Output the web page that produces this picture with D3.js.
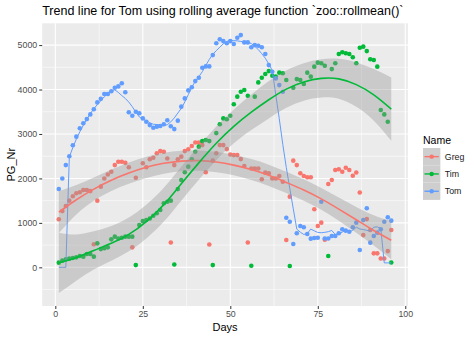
<!DOCTYPE html>
<html>
<head>
<meta charset="utf-8">
<script src="https://cdn.jsdelivr.net/npm/d3@7"></script>
<style>
  html, body { margin: 0; padding: 0; background: #ffffff; }
  svg { display: block; font-family: "Liberation Sans", Arial, sans-serif; }
</style>
</head>
<body>
<svg id="chart" width="474" height="338"></svg>
<script>
// ---------------- data ----------------
const days = d3.range(1, 97);
const seriesNames = ["Greg", "Tim", "Tom"];
const seriesColors = ["#F8766D", "#00BA38", "#619CFF"];

const gregValues = [1080,1265,1380,1500,1600,1665,1690,1740,1740,1715,
  520,1500,1815,2000,2090,2150,2300,2375,2375,2350,
  2250,450,2015,null,2340,2250,2430,2465,2565,2615,
  2600,2450,560,2300,2430,2490,2615,2655,2730,2810,
  2810,2750,2140,515,2400,2565,2750,2750,2660,2540,
  2525,2525,2435,2280,560,2225,2225,2225,1980,2130,
  2115,2000,2000,2055,1925,615,1590,2400,2300,2115,
  2055,2025,2025,1305,930,1005,620,1875,1965,2190,
  2205,2150,2240,2190,2060,2135,1685,725,1085,840,
  315,315,200,200,365,840];

const timValues = [105,150,180,195,210,225,255,240,300,300,
  240,540,410,430,450,630,690,650,665,690,
  690,690,50,950,1040,1065,1100,1160,1215,1290,
  1440,1475,1500,65,1760,1965,2140,2265,2430,2600,
  2715,2840,2865,2840,50,3020,3220,3350,3330,3410,
  3670,3840,3950,3990,3860,35,3840,4160,4265,4350,
  4415,4310,4290,4380,4365,4215,30,4040,4235,4215,
  4125,4380,4290,4515,4605,4590,4535,255,4460,4590,
  4800,4840,4815,4800,4725,4590,4940,4965,4865,4680,
  4665,4515,3540,3440,3275,110];

const tomValues = [1762,2000,2300,2500,2745,2940,3130,3240,3335,3440,
  3555,3710,3790,3900,3900,3960,4040,4070,4140,3940,
  3490,3410,3500,3465,3350,3275,3200,3140,3165,3180,
  3220,3310,3175,3110,3300,3615,3800,3980,4050,4190,
  4265,4490,4520,4520,4775,5040,5130,5090,5040,5090,
  5025,5165,5225,5060,5060,4950,5000,4985,4950,4800,
  4550,4400,4250,4100,3950,1115,1025,525,765,930,
  900,750,645,660,665,1475,650,650,705,705,
  765,855,825,800,900,1005,390,1065,1330,555,
  705,780,855,1025,1125,1050];

// rolling mean settings (zoo::rollmean, centred window, constant fill at the ends)
const rollK = 7;
const rollFill = [0, 100];

const smoothDays = [1,6,11,16,21,26,31,36,41,46,51,56,61,66,71,76,81,86,91,96];
const gregFit = [1240,1520,1760,1960,2120,2250,2340,2390,2400,2370,2300,2200,2070,1910,1740,1540,1310,1070,830,610];
const gregHalf = [470,330,260,240,240,240,235,230,230,230,230,235,240,240,240,245,260,290,340,430];
const timFit = [100,220,380,540,740,1030,1410,1880,2350,2790,3170,3490,3770,4010,4170,4250,4240,4110,3880,3560];
const timHalf = [680,520,430,390,380,380,380,380,380,380,380,400,420,420,420,430,450,500,580,710];

const xTicks = [0, 25, 50, 75, 100];
const yTicks = [0, 1000, 2000, 3000, 4000, 5000];
const titleText = "Trend line for Tom using rolling average function `zoo::rollmean()`";

// ---------------- layout ----------------
const svg = d3.select("#chart");
const P = { l: 42.2, r: 407.9, t: 23.3, b: 306 };
const x = d3.scaleLinear().domain([-3.75, 100.75]).range([P.l, P.r]);
const y = d3.scaleLinear().domain([-870, 5490]).range([P.b, P.t]);

// panel background
svg.append("rect").attr("x", P.l).attr("y", P.t)
  .attr("width", P.r - P.l).attr("height", P.b - P.t).attr("fill", "#EBEBEB");

const grid = svg.append("g");
// minor grid
const xMinor = [12.5, 37.5, 62.5, 87.5];
const yMinor = [-500, 500, 1500, 2500, 3500, 4500];
grid.selectAll(".xm").data(xMinor).enter().append("line")
  .attr("x1", d => x(d)).attr("x2", d => x(d)).attr("y1", P.t).attr("y2", P.b)
  .attr("stroke", "#fff").attr("stroke-width", 0.55);
grid.selectAll(".ym").data(yMinor).enter().append("line")
  .attr("y1", d => y(d)).attr("y2", d => y(d)).attr("x1", P.l).attr("x2", P.r)
  .attr("stroke", "#fff").attr("stroke-width", 0.55);
// major grid
grid.selectAll(".xM").data(xTicks).enter().append("line")
  .attr("x1", d => x(d)).attr("x2", d => x(d)).attr("y1", P.t).attr("y2", P.b)
  .attr("stroke", "#fff").attr("stroke-width", 1.1);
grid.selectAll(".yM").data(yTicks).enter().append("line")
  .attr("y1", d => y(d)).attr("y2", d => y(d)).attr("x1", P.l).attr("x2", P.r)
  .attr("stroke", "#fff").attr("stroke-width", 1.1);

// clip to panel
svg.append("clipPath").attr("id", "clip").append("rect")
  .attr("x", P.l).attr("y", P.t).attr("width", P.r - P.l).attr("height", P.b - P.t);
const plot = svg.append("g").attr("clip-path", "url(#clip)");

// ---------------- points ----------------
const allValues = [gregValues, timValues, tomValues];
allValues.forEach((vals, si) => {
  const pts = days.map((d, i) => ({ d, v: vals[i] })).filter(p => p.v !== null);
  plot.append("g").selectAll("circle").data(pts).enter().append("circle")
    .attr("cx", p => x(p.d)).attr("cy", p => y(p.v)).attr("r", 2.3)
    .attr("fill", seriesColors[si]);
});

// ---------------- Tom rolling mean line ----------------
const h = (rollK - 1) / 2;
const tomRoll = days.map((d, i) => {
  let v;
  if (i < h) v = rollFill[0];
  else if (i >= days.length - h) v = rollFill[1];
  else v = d3.mean(tomValues.slice(i - h, i + h + 1));
  return { d, v };
});
plot.append("path").datum(tomRoll)
  .attr("fill", "none").attr("stroke", seriesColors[2]).attr("stroke-width", 1)
  .attr("d", d3.line().x(p => x(p.d)).y(p => y(p.v)));

// ---------------- loess smooths with ribbons ----------------
const smooths = [
  { fit: gregFit, half: gregHalf, color: seriesColors[0] },
  { fit: timFit, half: timHalf, color: seriesColors[1] }
];
smooths.forEach(s => {
  const rows = smoothDays.map((d, i) => ({ d, f: s.fit[i], lo: s.fit[i] - s.half[i], hi: s.fit[i] + s.half[i] }));
  plot.append("path").datum(rows)
    .attr("fill", "#999999").attr("fill-opacity", 0.4)
    .attr("d", d3.area().curve(d3.curveNatural).x(r => x(r.d)).y0(r => y(r.lo)).y1(r => y(r.hi)));
  plot.append("path").datum(rows)
    .attr("fill", "none").attr("stroke", s.color).attr("stroke-width", 1.6)
    .attr("d", d3.line().curve(d3.curveNatural).x(r => x(r.d)).y(r => y(r.f)));
});

// ---------------- axes ----------------
const xAxis = svg.append("g").attr("transform", `translate(0,${P.b})`)
  .call(d3.axisBottom(x).tickValues(xTicks).tickSize(3).tickPadding(2).tickFormat(d3.format("d")));
const yAxis = svg.append("g").attr("transform", `translate(${P.l},0)`)
  .call(d3.axisLeft(y).tickValues(yTicks).tickSize(3).tickPadding(2).tickFormat(d3.format("d")));
[xAxis, yAxis].forEach(a => {
  a.select(".domain").remove();
  a.selectAll(".tick line").attr("stroke", "#333333").attr("stroke-width", 1);
  a.selectAll(".tick text").attr("fill", "#4D4D4D").attr("font-size", 8.8)
    .attr("font-family", "Liberation Sans, Arial, sans-serif");
});

// axis titles
svg.append("text").attr("x", (P.l + P.r) / 2).attr("y", 331).attr("text-anchor", "middle")
  .attr("font-size", 11).attr("fill", "#000").text("Days");
svg.append("text").attr("transform", `translate(15,${(P.t + P.b) / 2}) rotate(-90)`)
  .attr("text-anchor", "middle").attr("font-size", 11).attr("fill", "#000").text("PG_Nr");

// title
svg.append("text").attr("x", P.l).attr("y", 15).attr("font-size", 12.5)
  .attr("fill", "#000").text(titleText);

// ---------------- legend ----------------
const lg = svg.append("g");
lg.append("text").attr("x", 423).attr("y", 144).attr("font-size", 10.5).attr("fill", "#000").text("Name");
const keySize = 17.3, keyTop = 148, keyX = 423;
seriesNames.forEach((name, i) => {
  const ky = keyTop + i * keySize;
  lg.append("rect").attr("x", keyX).attr("y", ky).attr("width", keySize).attr("height", keySize)
    .attr("fill", "#F2F2F2");
  lg.append("rect").attr("x", keyX).attr("y", ky).attr("width", keySize).attr("height", keySize)
    .attr("fill", "#999999").attr("fill-opacity", 0.4);
  lg.append("line").attr("x1", keyX + 1.5).attr("x2", keyX + keySize - 1.5)
    .attr("y1", ky + keySize / 2).attr("y2", ky + keySize / 2)
    .attr("stroke", seriesColors[i]).attr("stroke-width", 1.4);
  lg.append("circle").attr("cx", keyX + keySize / 2).attr("cy", ky + keySize / 2).attr("r", 2.2)
    .attr("fill", seriesColors[i]);
  lg.append("text").attr("x", keyX + keySize + 4.5).attr("y", ky + keySize / 2 + 3.2)
    .attr("font-size", 8.8).attr("fill", "#1A1A1A").text(name);
});
</script>
</body>
</html>
